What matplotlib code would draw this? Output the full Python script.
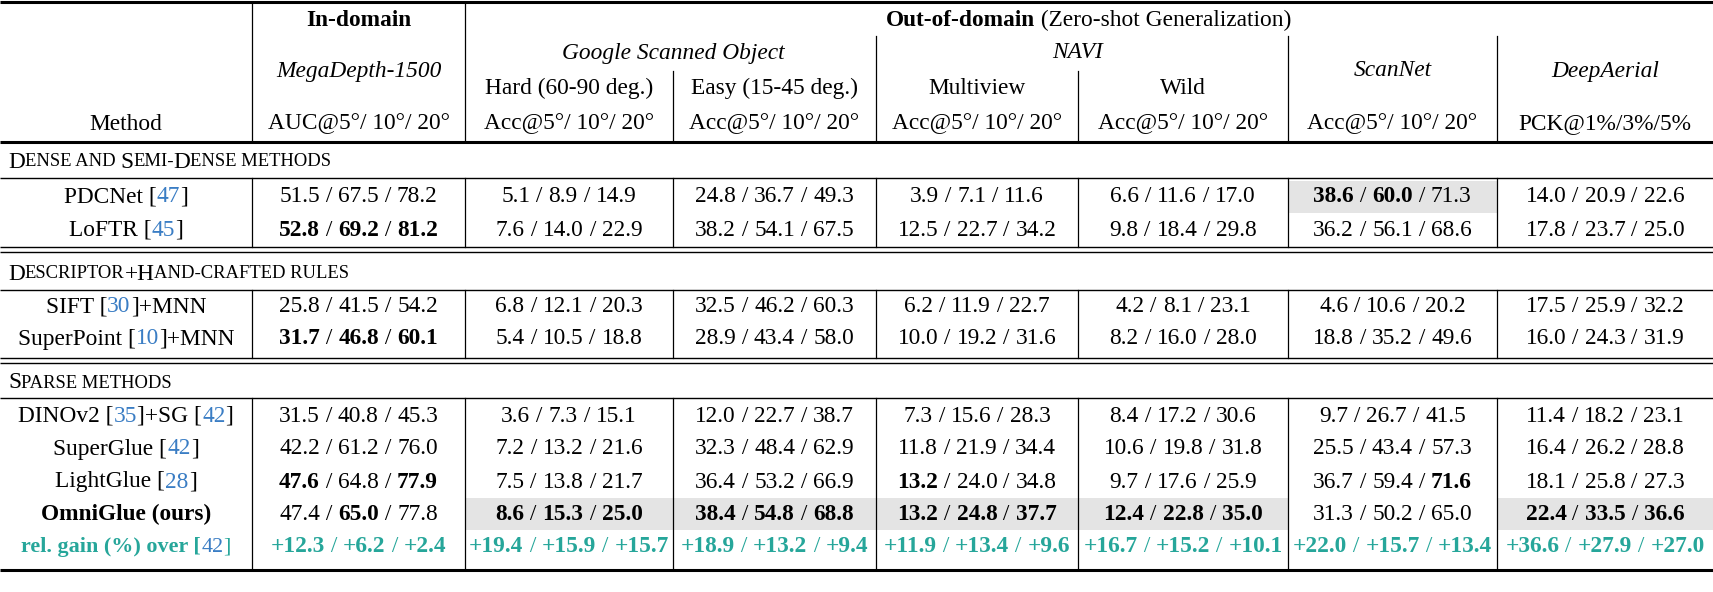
import matplotlib
matplotlib.use("Agg")
import matplotlib.pyplot as plt

W, H = 1713, 592
FS = 16.8
FONT = "Liberation Serif"
TEAL = "#26a69a"
BLUE = "#3a7dc4"
GRAY = "#e4e4e4"

methods = [
    [("PDCNet [", 0), ("47", "c"), ("]", 0)],
    [("LoFTR [", 0), ("45", "c"), ("]", 0)],
    [("SIFT [", 0), ("30", "c"), ("]+MNN", 0)],
    [("SuperPoint [", 0), ("10", "c"), ("]+MNN", 0)],
    [("DINOv2 [", 0), ("35", "c"), ("]+SG [", 0), ("42", "c"), ("]", 0)],
    [("SuperGlue [", 0), ("42", "c"), ("]", 0)],
    [("LightGlue [", 0), ("28", "c"), ("]", 0)],
    [("OmniGlue (ours)", 1)],
]
values = [
    ["51.5/67.5/78.2", "5.1/8.9/14.9", "24.8/36.7/49.3", "3.9/7.1/11.6", "6.6/11.6/17.0", "38.6/60.0/71.3", "14.0/20.9/22.6"],
    ["52.8/69.2/81.2", "7.6/14.0/22.9", "38.2/54.1/67.5", "12.5/22.7/34.2", "9.8/18.4/29.8", "36.2/56.1/68.6", "17.8/23.7/25.0"],
    ["25.8/41.5/54.2", "6.8/12.1/20.3", "32.5/46.2/60.3", "6.2/11.9/22.7", "4.2/8.1/23.1", "4.6/10.6/20.2", "17.5/25.9/32.2"],
    ["31.7/46.8/60.1", "5.4/10.5/18.8", "28.9/43.4/58.0", "10.0/19.2/31.6", "8.2/16.0/28.0", "18.8/35.2/49.6", "16.0/24.3/31.9"],
    ["31.5/40.8/45.3", "3.6/7.3/15.1", "12.0/22.7/38.7", "7.3/15.6/28.3", "8.4/17.2/30.6", "9.7/26.7/41.5", "11.4/18.2/23.1"],
    ["42.2/61.2/76.0", "7.2/13.2/21.6", "32.3/48.4/62.9", "11.8/21.9/34.4", "10.6/19.8/31.8", "25.5/43.4/57.3", "16.4/26.2/28.8"],
    ["47.6/64.8/77.9", "7.5/13.8/21.7", "36.4/53.2/66.9", "13.2/24.0/34.8", "9.7/17.6/25.9", "36.7/59.4/71.6", "18.1/25.8/27.3"],
    ["47.4/65.0/77.8", "8.6/15.3/25.0", "38.4/54.8/68.8", "13.2/24.8/37.7", "12.4/22.8/35.0", "31.3/50.2/65.0", "22.4/33.5/36.6"],
]
bold = [
    ["000", "000", "000", "000", "000", "110", "000"],
    ["111", "000", "000", "000", "000", "000", "000"],
    ["000", "000", "000", "000", "000", "000", "000"],
    ["111", "000", "000", "000", "000", "000", "000"],
    ["000", "000", "000", "000", "000", "000", "000"],
    ["000", "000", "000", "000", "000", "000", "000"],
    ["101", "000", "000", "100", "000", "001", "000"],
    ["010", "111", "111", "111", "111", "000", "111"],
]
shaded = [(0, 5), (7, 1), (7, 2), (7, 3), (7, 4), (7, 6)]
gains = ["+12.3/+6.2/+2.4", "+19.4/+15.9/+15.7", "+18.9/+13.2/+9.4", "+11.9/+13.4/+9.6",
         "+16.7/+15.2/+10.1", "+22.0/+15.7/+13.4", "+36.6/+27.9/+27.0"]
metrics = ["AUC@5°/ 10°/ 20°", "Acc@5°/ 10°/ 20°", "Acc@5°/ 10°/ 20°", "Acc@5°/ 10°/ 20°",
           "Acc@5°/ 10°/ 20°", "Acc@5°/ 10°/ 20°", "PCK@1%/3%/5%"]
sections = [
    [("D", 1), ("ENSE AND ", 0), ("S", 1), ("EMI-", 0), ("D", 1), ("ENSE METHODS", 0)],
    [("D", 1), ("ESCRIPTOR", 0), ("+H", 1), ("AND-CRAFTED RULES", 0)],
    [("S", 1), ("PARSE METHODS", 0)],
]

cols = [0, 252, 465, 673, 876, 1078, 1288, 1497, 1713]
row_y = [197, 230, 307, 339, 416, 449, 482, 514]
gain_y = 547
sec_y = [162, 274, 383]

fig = plt.figure(figsize=(W / 100, H / 100), dpi=100)
ax = fig.add_axes([0, 0, 1, 1])
ax.set_xlim(0, W); ax.set_ylim(H, 0); ax.axis("off")
fig.canvas.draw()
R = fig.canvas.get_renderer()

def pieces(x, y, parts, ha="center"):
    ts = []
    for s, kw in parts:
        t = ax.text(0, y, s, va="center", ha="left", family=FONT, **kw)
        ts.append(t)
    ws = [t.get_window_extent(R).width for t in ts]
    tot = sum(ws)
    cx = x - tot / 2 if ha == "center" else x
    for t, w in zip(ts, ws):
        t.set_x(cx); cx += w

def cell_parts(s, bmask, color="black"):
    nums = s.split("/")
    parts = []
    for i, n in enumerate(nums):
        parts.append((n, dict(fontsize=FS, color=color, fontweight="bold" if bmask[i] == "1" else "normal")))
        if i < 2:
            parts.append((" / ", dict(fontsize=FS, color=color)))
    return parts

for r, c in shaded:
    y0 = row_y[r] - 16
    ax.add_patch(plt.Rectangle((cols[c + 1], y0), cols[c + 2] - cols[c + 1], 32, color=GRAY, lw=0, zorder=0))

centers = [(cols[i] + cols[i + 1]) / 2 for i in range(8)]

pieces(centers[1], 20, [("In-domain", dict(fontsize=FS, fontweight="bold"))])
pieces((cols[2] + W) / 2, 20, [("Out-of-domain", dict(fontsize=FS, fontweight="bold")),
                               (" (Zero-shot Generalization)", dict(fontsize=FS))])
pieces(centers[1], 71, [("MegaDepth-1500", dict(fontsize=FS, style="italic"))])
pieces(cols[3], 53, [("Google Scanned Object", dict(fontsize=FS, style="italic"))])
pieces(cols[5], 53, [("NAVI", dict(fontsize=FS, style="italic"))])
pieces(centers[6], 71, [("ScanNet", dict(fontsize=FS, style="italic"))])
pieces(centers[7], 71, [("DeepAerial", dict(fontsize=FS, style="italic"))])
for i, s in zip([2, 3, 4, 5], ["Hard (60-90 deg.)", "Easy (15-45 deg.)", "Multiview", "Wild"]):
    pieces(centers[i], 88, [(s, dict(fontsize=FS))])
pieces(centers[0], 124, [("Method", dict(fontsize=FS))])
for i, m in enumerate(metrics):
    pieces(centers[i + 1], 124, [(m, dict(fontsize=FS))])

for sy, sec in zip(sec_y, sections):
    pieces(8, sy, [(s, dict(fontsize=FS if b else FS * 0.8)) for s, b in sec], ha="left")

for r in range(8):
    mp = []
    for s, f in methods[r]:
        kw = dict(fontsize=FS)
        if f == 1: kw["fontweight"] = "bold"
        if f == "c": kw["color"] = BLUE
        mp.append((s, kw))
    pieces(centers[0], row_y[r], mp)
    for c in range(7):
        pieces(centers[c + 1], row_y[r], cell_parts(values[r][c], bold[r][c]))

pieces(centers[0], gain_y, [("rel. gain (%) over [", dict(fontsize=FS * 0.95, color=TEAL, fontweight="bold")),
                            ("42", dict(fontsize=FS * 0.95, color=BLUE)),
                            ("]", dict(fontsize=FS * 0.95, color=TEAL))])
for c in range(7):
    pieces(centers[c + 1], gain_y, cell_parts(gains[c], "111", color=TEAL))

def hl(y, lw):
    ax.plot([0, W], [y, y], color="black", lw=lw, solid_capstyle="butt")
hl(2, 2.2); hl(142, 2.2); hl(178, 1.0); hl(247, 1.0); hl(252, 1.0); hl(290, 1.0)
hl(358, 1.0); hl(363, 1.0); hl(398, 1.0); hl(570, 2.2)

segs = [(178, 247), (290, 358), (398, 570)]
tops = {1: 2, 2: 2, 3: 71, 4: 36, 5: 71, 6: 36, 7: 36}
for i, top in tops.items():
    x = cols[i]
    ax.plot([x, x], [top, 142], color="black", lw=0.9)
    for a, b in segs:
        ax.plot([x, x], [a, b], color="black", lw=0.9)

fig.savefig("out.png", dpi=100)
